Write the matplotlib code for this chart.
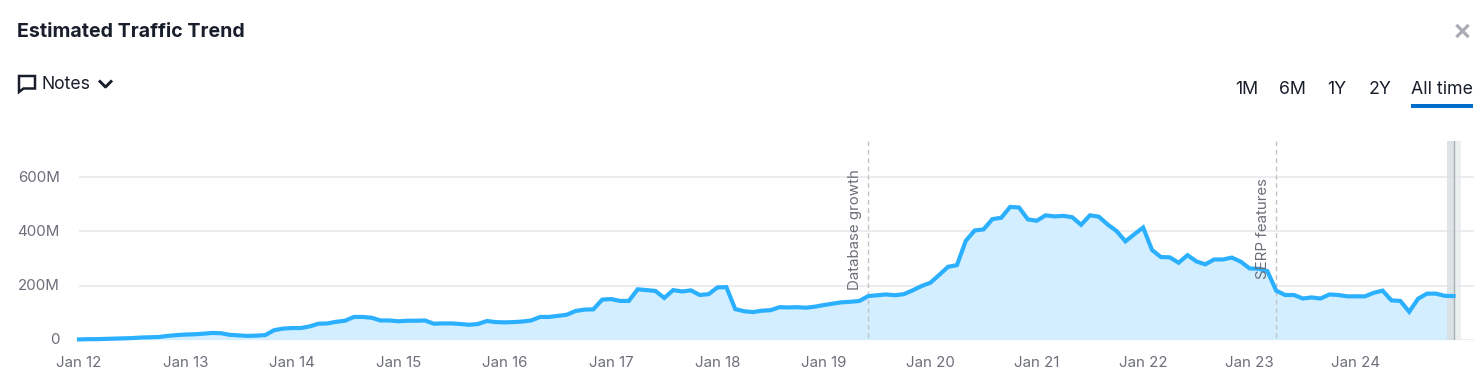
import matplotlib
matplotlib.use("Agg")
import matplotlib.pyplot as plt
from matplotlib.patches import Rectangle, Polygon
from matplotlib.transforms import ScaledTranslation

W, H = 1482, 380

traffic = [
    1, 2, 2, 3, 4, 5, 6, 8, 9, 10, 14, 17,
    19, 20, 22, 25, 24, 18, 16, 14, 15, 17, 35, 41,
    43, 43, 49, 59, 60, 66, 70, 84, 84, 81, 71, 71,
    68, 70, 70, 71, 59, 60, 60, 58, 55, 58, 69, 65,
    64, 65, 67, 71, 84, 84, 88, 92, 106, 111, 112, 148,
    150, 143, 143, 186, 183, 180, 154, 183, 178, 182, 165, 168,
    193, 194, 113, 105, 102, 107, 109, 120, 119, 120, 118, 122,
    128, 133, 138, 140, 143, 161, 164, 167, 164, 168, 182, 198,
    210, 239, 269, 275, 365, 403, 407, 445, 450, 490, 488, 444,
    439, 459, 455, 457, 452, 424, 459, 454, 425, 401, 363, 389,
    414, 331, 305, 304, 284, 312, 289, 278, 296, 296, 303, 288,
    263, 262, 253, 181, 165, 165, 152, 156, 152, 167, 165, 160,
    160, 160, 173, 181, 145, 143, 103, 151, 170, 170, 162, 161,
]
months = list(range(len(traffic)))
year_ticks = list(range(0, 156, 12))
year_labels = ["Jan 12", "Jan 13", "Jan 14", "Jan 15", "Jan 16", "Jan 17", "Jan 18",
               "Jan 19", "Jan 20", "Jan 21", "Jan 22", "Jan 23", "Jan 24"]
y_ticks = [0, 200, 400, 600]
y_labels = ["0", "200M", "400M", "600M"]
note_months = [89, 135]
note_labels = ["Database growth", "SERP features"]
note_y = [182, 224]
ranges = ["1M", "6M", "1Y", "2Y", "All time"]
range_x = [1247, 1292, 1337, 1380, 1442]

plt.rcParams["font.family"] = ["Inter", "DejaVu Sans"]
fig = plt.figure(figsize=(W / 100, H / 100), dpi=100, facecolor="white")

PX_MONTH = 8.868
PX_M = 54.2 / 200
L, R, T, B = 79.0, 1474, 141, 339.7
ax = fig.add_axes([L / W, 1 - B / H, (R - L) / W, (B - T) / H])
ax.set_xlim(0, (R - L) / PX_MONTH)
ax.set_ylim(0, (B - T) / PX_M)
for s in ax.spines.values():
    s.set_visible(False)
ax.set_facecolor("none")
ax.set_yticks(y_ticks, y_labels)
ax.set_xticks(year_ticks, year_labels)
ax.tick_params(length=0, labelsize=10.8, labelcolor="#6C6E79")
ax.tick_params(axis="y", pad=14)
ax.tick_params(axis="x", pad=12)
up = ScaledTranslation(0, 1 / 100, fig.dpi_scale_trans)
for lab in ax.get_yticklabels():
    lab.set_transform(lab.get_transform() + up)
ax.grid(axis="y", color="#E6E7EC", lw=1.1)
ax.set_axisbelow(True)

ax.fill_between(months, traffic, 0, color="#D3EFFF", lw=0, zorder=1)
ax.plot(months, traffic, color="#2BB0FF", lw=3, solid_joinstyle="miter", zorder=4, clip_on=False)

for m, lab, y in zip(note_months, note_labels, note_y):
    ax.plot([m, m], [ax.get_ylim()[1], 0], color="#C2C3C7", lw=1, ls=(0, (3.5, 2.5)), zorder=3)
    ax.text(m - 1.5, y, lab, rotation=90, ha="center", va="bottom", fontsize=10.85, color="#6C6E79", zorder=5)

# brush at the end of the time range
ax.axvspan(155 - 6.5 / PX_MONTH, 155 + 7 / PX_MONTH, color="#E6EAEC", alpha=0.75, lw=0, zorder=2)
ax.axvspan(155 - 6.5 / PX_MONTH, 155, color="#C9D3D7", alpha=0.4, lw=0, zorder=2)
ax.axvline(155, color="#A9B0B4", lw=1, zorder=3)

# page furniture, drawn in pixel coordinates
ui = fig.add_axes([0, 0, 1, 1], zorder=10)
ui.set_xlim(0, W)
ui.set_ylim(H, 0)
ui.axis("off")
ui.patch.set_alpha(0)
ui.text(17, 32, "Estimated Traffic Trend", fontsize=14.1, fontweight="bold", color="#181E2B", va="center", ha="left")
ui.text(41.5, 84.5, "Notes", fontsize=12.7, color="#181E2B", va="center", ha="left")
ui.add_patch(Polygon([(19, 76), (35, 76), (35, 88.5), (23.5, 88.5), (19, 92)], closed=True, fc="none",
                     ec="#181E2B", lw=1.8, joinstyle="miter"))
ui.plot([100, 105.5, 111], [81.5, 87, 81.5], color="#181E2B", lw=2.1)
ui.plot([1457.5, 1467.5], [26, 36], color="#A9ABB6", lw=2.3)
ui.plot([1457.5, 1467.5], [36, 26], color="#A9ABB6", lw=2.3)
for x, lab in zip(range_x, ranges):
    ui.text(x, 89, lab, fontsize=12.8, color="#181E2B", va="center", ha="center")
ui.add_patch(Rectangle((1411, 104), 62, 3.5, fc="#006DCA", ec="none"))

fig.savefig("out.png", dpi=100)
